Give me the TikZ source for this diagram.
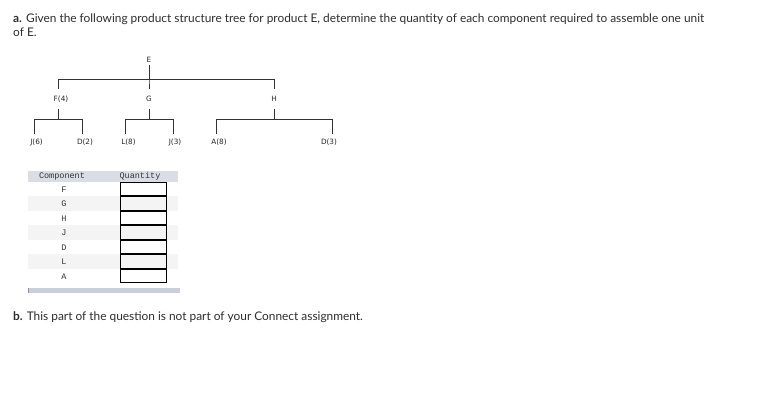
\documentclass[tikz,border=0pt]{standalone}
\usepackage{fontspec}
\setmainfont{Lato}
\newfontfamily\lblfont{DejaVu Sans}
\newfontfamily\monofont{Liberation Mono}
\definecolor{txt}{HTML}{2E2E2E}
\definecolor{hdrband}{HTML}{D9DDE6}
\definecolor{stripe}{HTML}{F4F4F4}
\definecolor{sbar}{HTML}{C9CED8}
\definecolor{sbedge}{HTML}{8A8F99}
\newlength\hdw
\begin{document}
\settowidth\hdw{\fontsize{10}{12}\selectfont\textbf{a.} Given the following product structure tree for product E, determine the quantity of each component required to assemble one unit}%
\pgfmathsetmacro\hfs{10*691/\hdw}%
\begin{tikzpicture}[x=1pt,y=-1pt,
  tl/.style={draw=black!80, line width=0.8pt},
  lbl/.style={font=\lblfont\fontsize{7.3}{8}\selectfont, inner sep=0pt, text=black!85},
  midlbl/.style={lbl, minimum height=20pt},
  leaflbl/.style={lbl, minimum height=16pt},
  comp/.style={font=\monofont\fontsize{8.5}{10}\selectfont, text=black!80, inner sep=0pt},
  qbox/.style={draw=black, line width=1pt, minimum width=46pt, minimum height=13.5pt, inner sep=0pt},
  hdr/.style={font=\fontsize{\hfs}{\hfs}\selectfont, anchor=base west, inner sep=0pt, text=txt}
]
\useasboundingbox[fill=white] (0,0) rectangle (772,406);

% question text
\node[hdr] (qa1) at (13,23) {\textbf{a.} Given the following product structure tree for product E, determine the quantity of each component required to assemble one unit};
\node[hdr] (qa2) at (13,37) {of E.};
\node[hdr] (qb) at (13,321) {\textbf{b.} This part of the question is not part of your Connect assignment.};

% tree
\node[midlbl] (E) at (149,60) {E};
\node[midlbl] (F) at (61,99) {F(4)};
\node[midlbl] (G) at (149,99) {G};
\node[midlbl] (H) at (274,99) {H};
\node[leaflbl] (J6) at (36.5,142) {J(6)};
\node[leaflbl] (D2) at (85,142) {D(2)};
\node[leaflbl] (L8) at (128.5,142) {L(8)};
\node[leaflbl] (J3) at (175,142) {J(3)};
\node[leaflbl] (A8) at (219,142) {A(8)};
\node[leaflbl] (D3) at (329,142) {D(3)};

\draw[tl] ([yshift=5pt]E.south) -- ++(0,14) -| ([xshift=-3pt]F.north);
\draw[tl] ([yshift=5pt]E.south) -- ++(0,14) -| (G.north);
\draw[tl] ([yshift=5pt]E.south) -- ++(0,14) -| (H.north);

\draw[tl] ([xshift=-3pt]F.south) -- ++(0,10) -| ([xshift=-2.5pt]J6.north);
\draw[tl] ([xshift=-3pt]F.south) -- ++(0,10) -| ([xshift=-3pt]D2.north);
\draw[tl] (G.south) -- ++(0,10) -| ([xshift=-3.5pt]L8.north);
\draw[tl] (G.south) -- ++(0,10) -| ([xshift=-2pt]J3.north);
\draw[tl] (H.south) -- ++(0,10) -| ([xshift=-3pt]A8.north);
\draw[tl] (H.south) -- ++(0,10) -| ([xshift=3pt]D3.north);

% table
\fill[hdrband] (28,171) rectangle (178,182);
\foreach \r in {1,3,5} {
  \fill[stripe] (28,{182+14.5*\r}) rectangle (178,{196.5+14.5*\r});
}
\node[comp] (hc) at (62,176.5) {Component};
\node[comp] (hq) at (140,176.5) {Quantity};
\foreach \c [count=\i from 0] in {F,G,H,J,D,L,A} {
  \node[comp] (c\c) at (64,{189.25+14.5*\i}) {\c};
  \node[qbox] (q\c) at (143.5,{189.25+14.5*\i}) {};
}
% scroll bar
\fill[sbar] (28,288) rectangle (180,293);
\draw[sbedge, line width=1pt] (28.5,288) -- (28.5,293);
\end{tikzpicture}
\end{document}
